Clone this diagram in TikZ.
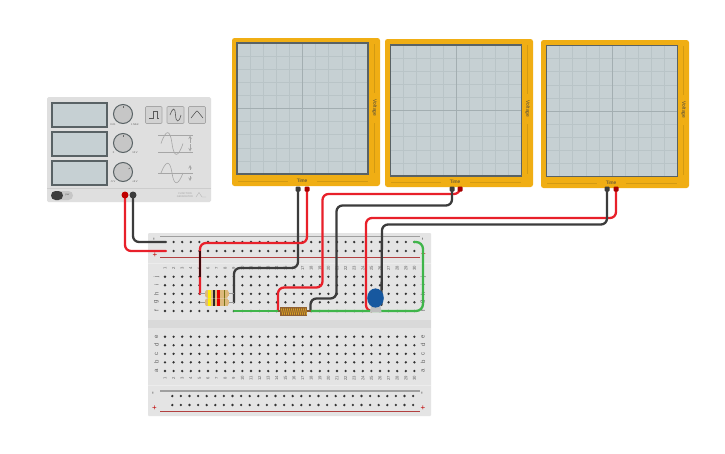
\documentclass[tikz,border=0pt]{standalone}
\usepackage{fontspec}
\setmainfont{Liberation Sans}
\definecolor{wred}{HTML}{E8202A}
\definecolor{wblack}{HTML}{3C3C3C}
\definecolor{wgreen}{HTML}{3FB54A}
\definecolor{scr}{HTML}{C6D0D3}
\definecolor{scrb}{HTML}{596265}
\definecolor{gridm}{HTML}{B9C4C7}
\definecolor{gridc}{HTML}{A3AEB1}
\definecolor{orng}{HTML}{F0AE14}
\definecolor{orngd}{HTML}{D39A12}
\definecolor{board}{HTML}{E4E4E4}
\definecolor{hole}{HTML}{333333}
\definecolor{lbl}{HTML}{5E5E5E}
\definecolor{resb}{HTML}{DDB97C}
\definecolor{capb}{HTML}{17589F}
\tikzset{
 x=1pt,y=-1pt,
 wire/.style={line width=2.3pt,rounded corners=6pt,line cap=round},
 redw/.style={wire,draw=wred},
 blackw/.style={wire,draw=wblack},
 greenw/.style={wire,draw=wgreen},
 lead/.style={line width=1.2pt,draw=gray!80},
 screenbox/.style={draw=scrb,line width=1.6pt,fill=scr},
 scopebody/.style={fill=orng,rounded corners=2.5pt},
 tick/.style={draw=orngd,line width=.4pt},
 lab/.style={text=lbl,font=\fontsize{4.2}{4.5}\selectfont,inner sep=0pt,rotate=90},
 tiny/.style={text=lbl,font=\fontsize{2.6}{3}\selectfont,inner sep=0pt},
 fgdisp/.style={draw=scrb,line width=1.6pt,fill=scr},
 knob/.style={circle,draw=scrb,line width=1pt,fill=gray!45,minimum size=19pt,inner sep=0pt},
 fgbtn/.style={draw=gray!70,line width=.6pt,fill=gray!35,rounded corners=1pt},
 icon/.style={draw=gray!70,line width=.6pt},
 iconb/.style={draw=black!65,line width=.6pt},
 termblk/.style={fill=wblack,rounded corners=1pt},
 termred/.style={fill=red!65!black,rounded corners=1pt},
}
\newcommand{\scopeunit}[5]{% name, left, top, screen dx, screen dy
 \begin{scope}[shift={(#2,#3)}]
  \fill[scopebody] (0,0) rectangle (148,148);
  \fill[scr] (#4,#5) rectangle ++(131,131);
  \foreach \k in {1,...,9}{
   \draw[gridm,line width=.5pt] ({#4+13.1*\k},#5) -- ++(0,131);
   \draw[gridm,line width=.5pt] (#4,{#5+13.1*\k}) -- ++(131,0);
  }
  \draw[gridc,line width=.7pt] ({#4+65.5},#5) -- ++(0,131);
  \draw[gridc,line width=.7pt] (#4,{#5+65.5}) -- ++(131,0);
  \draw[scrb,line width=1.6pt] (#4,#5) rectangle ++(131,131);
  \draw[tick] (6,143) -- (56,143) (85,143) -- (136,143);
  \draw[tick] (142.5,6) -- (142.5,55) (142.5,85) -- (142.5,135);
  \node[font=\fontsize{4.8}{5}\selectfont,text=black!75,inner sep=0pt] (#1time) at (70,142.5) {Time};
  \node[font=\fontsize{4.8}{5}\selectfont,text=black!75,inner sep=0pt,rotate=-90] (#1volt) at (142.5,70) {Voltage};
 \end{scope}}
\begin{document}
\begin{tikzpicture}
\useasboundingbox (0,0) rectangle (725,453);
\fill[white] (0,0) rectangle (725,453);

% function generator
\fill[gray!25,rounded corners=1.5pt] (47,97) rectangle (211,202);
\draw[gray!40,line width=.5pt] (47,188) -- (211,188);
\draw[fgdisp] (52,103) rectangle (107,127);
\draw[fgdisp] (52,132) rectangle (107,156);
\draw[fgdisp] (52,161) rectangle (107,185);
\node[knob] (k1) at (123,114) {};
\node[knob] (k2) at (123,143) {};
\node[knob] (k3) at (123,172) {};
\draw[black!60,line width=.5pt] (123,106) -- (123,107.5);
\draw[black!60,line width=.5pt] (123,135) -- (123,136.5);
\draw[black!60,line width=.5pt] (130,168) -- (128.5,169);
\node[tiny] (t1a) at (113,124.5) {0.01};
\node[tiny] (t1b) at (135,124.5) {1 MHz};
\node[tiny] (t2a) at (113.5,153) {0};
\node[tiny] (t2b) at (135,153) {10 V};
\node[tiny] (t3a) at (113,182) {-5 V};
\node[tiny] (t3b) at (135,182) {+5 V};
\draw[fgbtn] (145.5,106.5) rectangle (162,123.5);
\draw[fgbtn] (167,106.5) rectangle (184,123.5);
\draw[fgbtn] (188.5,106.5) rectangle (205.5,123.5);
\draw[iconb] (149,118) -- (153,118) -- (153,111) -- (157.5,111) -- (157.5,118) -- (159,118);
\draw[iconb] (170,115) .. controls (173,107) and (175,107) .. (175.5,115) .. controls (176,123) and (179,123) .. (181,115);
\draw[iconb,rounded corners=1pt] (191,118) -- (197,110.5) -- (203,118);
% wave icons
\draw[icon] (158,135) -- (193,135) (158,152) -- (193,152);
\draw[icon] (161,143.5) .. controls (166,129) and (170,129) .. (172,143.5) .. controls (174,158) and (178,158) .. (183,143.5);
\draw[icon,->,>=stealth] (190,143) -- (190,135.5);
\draw[icon,->,>=stealth] (190,144) -- (190,151.5);
\draw[icon] (158,173) -- (193,173);
\draw[icon] (161,173) .. controls (166,160) and (170,160) .. (172,173) .. controls (174,186) and (178,186) .. (183,173);
\draw[icon,->,>=stealth] (190,170) -- (190,165);
\draw[icon,->,>=stealth] (190,176) -- (190,181);
% power switch
\fill[gray!45,rounded corners=4.5pt] (51,191) rectangle (73,200);
\fill[wblack,rounded corners=4.5pt] (51,191) rectangle (63,200);
\node[tiny] (pw) at (67.5,195.5) {pwr};
\node[tiny,text=gray!70,align=center] (fgname) at (185,195) {FUNCTION\\GENERATOR};
\draw[gray!60,line width=.4pt] (196,197) -- (199,192.5) -- (202,197) -- (206,197);

% scopes
\scopeunit{sa}{232}{38}{5}{5}
\scopeunit{sb}{385}{39}{5.5}{6}
\scopeunit{sc}{541}{40}{5.5}{5.5}

% breadboard
\fill[board,rounded corners=1pt] (148,233) rectangle (431,416);
\fill[gray!30] (148,320) rectangle (431,328);
\draw[gray!15,line width=.6pt] (148,263) -- (431,263) (148,385) -- (431,385);
\draw[gray!75,line width=.9pt] (160,236) -- (420,236);
\draw[red!60!black!75,line width=.9pt] (160,257.3) -- (420,257.3);
\draw[gray!75,line width=1.3pt] (160,391) -- (420,391);
\draw[red!60!black!75,line width=.9pt] (160,411) -- (420,411);
\foreach \n in {0,...,29}{
 \pgfmathsetmacro{\hx}{165+8.6*\n}
 \foreach \hy in {276.7,285.2,293.8,302.3,311,336.7,345.2,353.8,362.3,371}{
  \fill[hole] (\hx,\hy) circle (1.3);
 }
 \pgfmathtruncatemacro{\num}{\n+1}
 \node[lab] (nt\num) at (\hx,268) {\num};
 \node[lab] (nb\num) at (\hx,378.5) {\num};
}
\foreach \n in {0,...,28}{
 \pgfmathsetmacro{\hx}{173.6+8.6*\n}
 \fill[hole] (\hx,242) circle (1.3);
 \fill[hole] (\hx,251) circle (1.3);
 \pgfmathsetmacro{\hxb}{172.3+8.6*\n}
 \fill[hole] (\hxb,396) circle (1.3);
 \fill[hole] (\hxb,405) circle (1.3);
}
\foreach \t/\y/\m in {j/276.7/a,i/285.2/b,h/293.8/c,g/302.3/d,f/311/e,e/336.7/f,d/345.2/g,c/353.8/h,b/362.3/i,a/371/k}{
 \node[lab,font=\fontsize{6}{6}\selectfont] (ll\m) at (156.5,\y) {\t};
 \node[lab,font=\fontsize{6}{6}\selectfont] (lr\m) at (423,\y) {\t};
}
\foreach \nm/\x/\y in {ma/155/239,mb/423.5/239,mc/154/393,md/423/393}{
 \node[lab,font=\fontsize{8}{8}\selectfont,text=black!70] (\nm) at (\x,\y) {-};
}
\foreach \nm/\x/\y in {pa/155/255,pb/423.5/254.5,pc/154.5/408.5,pd/423/408.5}{
 \node[inner sep=0pt,text=red!75!black,font=\fontsize{8}{8}\selectfont] (\nm) at (\x,\y) {+};
}

% connection points
\coordinate (fgR) at (125,195);
\coordinate (fgB) at (133,195);
\coordinate (sar) at (307,190);
\coordinate (sab) at (298,190);
\coordinate (sbr) at (460,190);
\coordinate (sbb) at (452,190);
\coordinate (scr1) at (616,190);
\coordinate (scb1) at (607,190);
\coordinate (railB) at (166,242);
\coordinate (railR) at (166,251);
\coordinate (railG) at (414,242);
\coordinate (rTop) at (200,294);
\coordinate (rBot) at (234,302.3);
\coordinate (lL) at (278,311);
\coordinate (lR) at (310.5,311);
\coordinate (gA) at (234,311);
\coordinate (cL) at (370.5,311);
\coordinate (cR) at (381.5,305);

% wires
\draw[redw] (fgR) |- (railR);
\draw[blackw] (fgB) |- (railB);
\draw[blackw] (sab) |- (234,268) -- (rBot);
\draw[redw] (sar) |- (200,243) -- (rTop);
\draw[line width=2.3pt,draw=black!60!wred!70!black] (200,251) -- (200,277);
\draw[redw] (sbr) -- (460,194) -- (322.5,194) |- (278,287.5) -- (lL);
\draw[blackw] (sbb) |- (336.5,205.5) |- (310.5,298.5) -- (lR);
\draw[redw] (scr1) |- (366,218) |- (cL);
\draw[blackw] (scb1) |- (382,224.5) -- (cR);
\draw[greenw,rounded corners=0pt] (gA) -- (lL);
\draw[greenw,rounded corners=7pt] (lR) -- (423,311) |- (railG);

% scope terminals
\foreach \c/\s in {sab/termblk,sar/termred,sbb/termblk,sbr/termred,scb1/termblk,scr1/termred}{
 \fill[\s] ([shift={(-2.5,-3.5)}]\c) rectangle ([shift={(2.5,1.5)}]\c);
}
% generator terminals
\fill[red!75!black] (fgR) circle (3.5);
\fill[wblack] (fgB) circle (3.5);

% resistors
\foreach \ry in {293.8,302.3}{
 \draw[lead] (200,\ry) -- (234,\ry);
 \begin{scope}
  \clip[rounded corners=2.5pt] (205,\ry-4) rectangle (229,\ry+4);
  \fill[resb] (205,\ry-4) rectangle (229,\ry+4);
  \fill[yellow!95!orange] (207.5,\ry-4) rectangle (210.5,\ry+4);
  \fill[black!85] (212.5,\ry-4) rectangle (215,\ry+4);
  \fill[red!90!black] (217,\ry-4) rectangle (219.5,\ry+4);
  \fill[olive!80!black] (223.5,\ry-4) rectangle (225,\ry+4);
 \end{scope}
}

% inductor
\draw[lead,draw=brown!70!black] (278,311) -- (310.5,311);
\fill[brown!75!black] (280,307) rectangle (307,316);
\foreach \i in {0,...,12}{
 \draw[orange!50!yellow!90!white,line width=.5pt] ({281.5+2*\i},308.5) -- ({282.5+2*\i},314.5);
}

% capacitor
\fill[gray!50] (371,306) -- (380.5,306) -- (381.5,312) -- (370,312) -- cycle;
\fill[capb] (375.5,298) ellipse (8.3 and 9.6);
\end{tikzpicture}
\end{document}
